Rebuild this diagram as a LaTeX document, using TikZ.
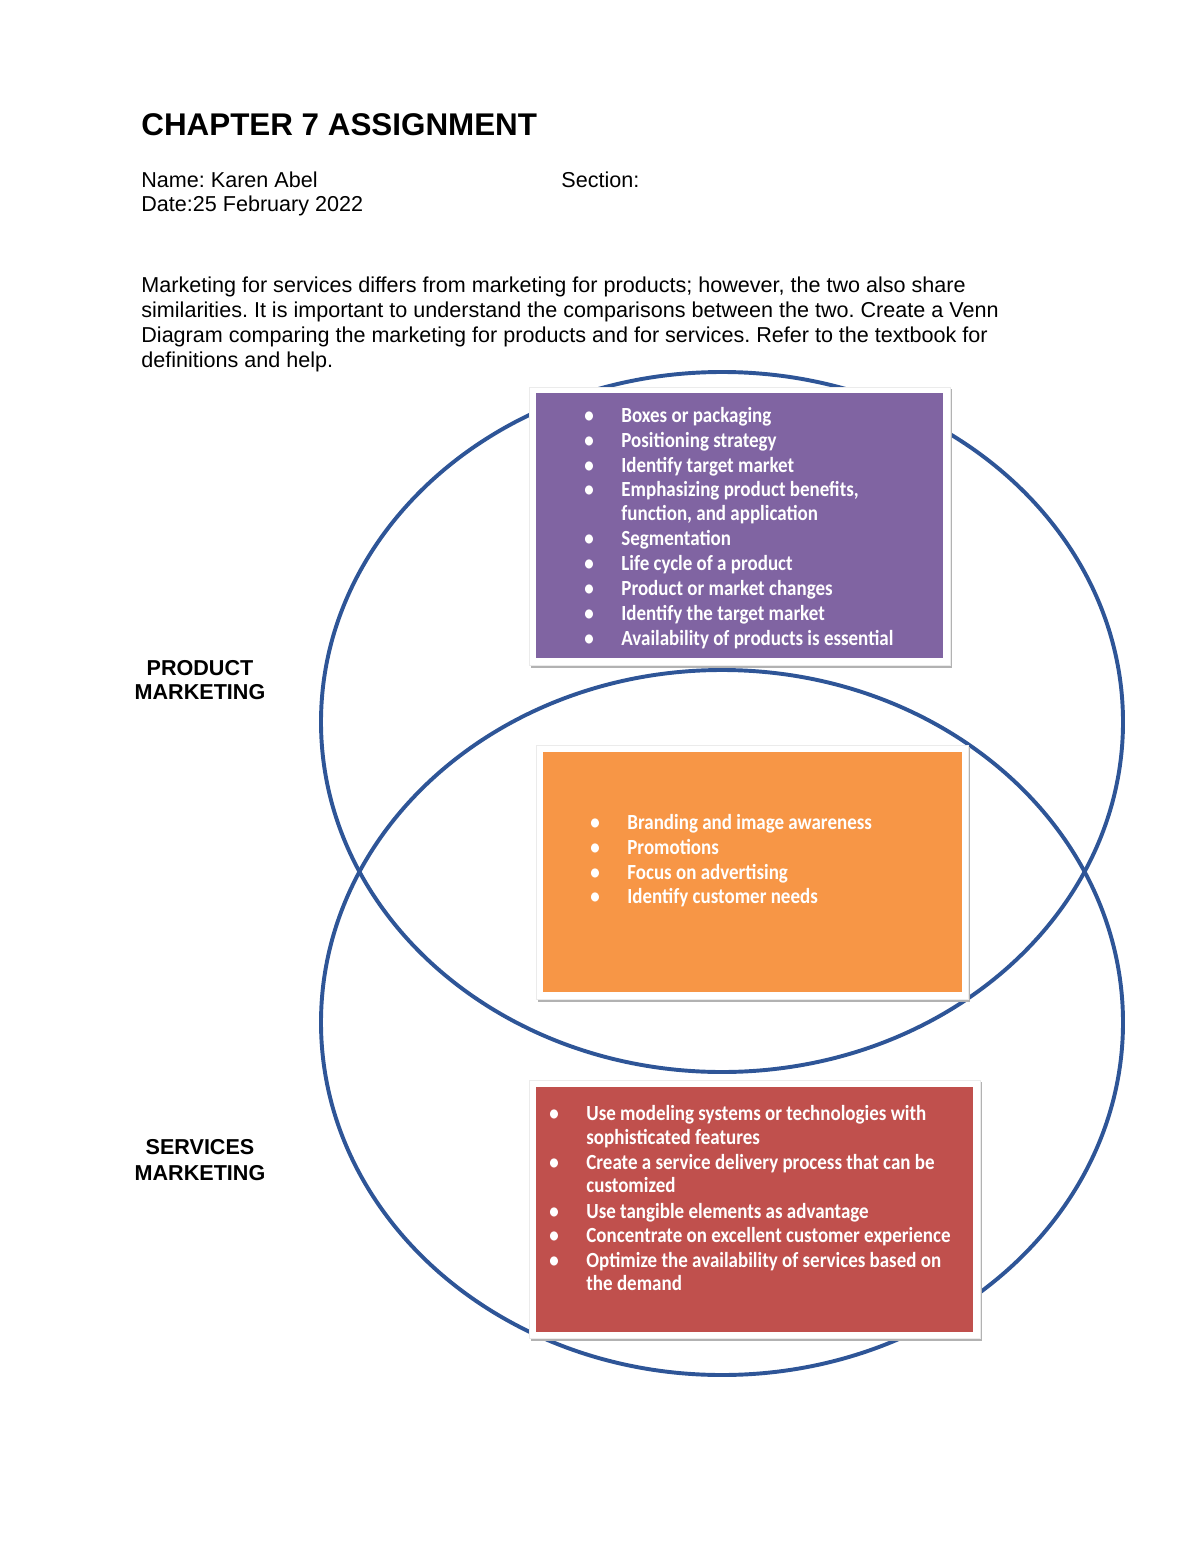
\documentclass[tikz,border=0pt]{standalone}
\usepackage{fontspec}
\setmainfont{Liberation Sans}
\newfontfamily\boxfont[FakeStretch=0.88]{Carlito}
\frenchspacing
\definecolor{vennblue}{HTML}{2E5597}
\definecolor{ppurple}{HTML}{8064A2}
\definecolor{porange}{HTML}{F79646}
\definecolor{pred}{HTML}{C0504D}
\tikzset{
  bodytext/.style={anchor=base west, inner sep=0pt, font=\fontsize{11}{12.6}\selectfont},
  titletext/.style={anchor=base west, inner sep=0pt, font=\fontsize{16}{18}\selectfont\bfseries},
  labeltext/.style={anchor=base, inner sep=0pt, font=\fontsize{11}{12.6}\selectfont\bfseries},
  itemtext/.style={anchor=base west, inner sep=0pt, text=white, font=\boxfont\fontsize{11}{12.6}\selectfont\bfseries},
  bulletmark/.style={anchor=base, inner sep=0pt, text=white, font=\boxfont\fontsize{11}{12.6}\selectfont\bfseries},
  venn/.style={draw=vennblue, line width=2pt},
  boxshadow/.style={fill=black!30, draw=none},
  boxframe/.style={fill=white, draw=black!8, line width=0.3pt},
}
\begin{document}
\begin{tikzpicture}[x=0.51pt, y=-0.51pt]
\useasboundingbox (0,0) rectangle (1200,1553);
% header
\node[titletext] (title) at (141,136) {CHAPTER 7 ASSIGNMENT};
\node[bodytext] (name) at (141,188) {Name: Karen Abel};
\node[bodytext] (section) at (561,188) {Section:};
\node[bodytext] (date) at (141,212) {Date:25 February 2022};
\node[bodytext] (p1) at (141,292) {Marketing for services differs from marketing for products; however, the two also share};
\node[bodytext] (p2) at (141,317) {similarities. It is important to understand the comparisons between the two. Create a Venn};
\node[bodytext] (p3) at (141,342) {Diagram comparing the marketing for products and for services. Refer to the textbook for};
\node[bodytext] (p4) at (141,367) {definitions and help.};
% labels
\node[labeltext] (lab1) at (200,675) {PRODUCT};
\node[labeltext] (lab2) at (200,699) {MARKETING};
\node[labeltext] (lab3) at (200,1154) {SERVICES};
\node[labeltext] (lab4) at (200,1180) {MARKETING};
% ellipses
\draw[venn] (722,722) ellipse [x radius=401, y radius=350];
\draw[venn] (722,1022.5) ellipse [x radius=401, y radius=352.5];
% purple box
\fill[boxshadow] (531,389) rectangle (952,668);
\filldraw[boxframe] (529,387) rectangle (950,665);
\fill[ppurple] (536,393) rectangle (943,658);
% orange box
\fill[boxshadow] (538,747) rectangle (970,1002);
\filldraw[boxframe] (536,745) rectangle (968,999);
\fill[porange] (543,752) rectangle (962,992);
% red box
\fill[boxshadow] (531,1082) rectangle (982,1341);
\filldraw[boxframe] (529,1080) rectangle (980,1338);
\fill[pred] (536,1087) rectangle (973,1332);
% purple items
\foreach \yy/\nm in {422/a1,447/a2,472/a3,496/a4,545/a6,570/a7,595/a8,620/a9,645/a10}
  \node[bulletmark] (b\nm) at (589,\yy) {•};
\node[itemtext] (a1) at (621,422) {Boxes or packaging};
\node[itemtext] (a2) at (621,447) {Positioning strategy};
\node[itemtext] (a3) at (621,472) {Identify target market};
\node[itemtext] (a4) at (621,496) {Emphasizing product benefits,};
\node[itemtext] (a5) at (621,520) {function, and application};
\node[itemtext] (a6) at (621,545) {Segmentation};
\node[itemtext] (a7) at (621,570) {Life cycle of a product};
\node[itemtext] (a8) at (621,595) {Product or market changes};
\node[itemtext] (a9) at (621,620) {Identify the target market};
\node[itemtext] (a10) at (621,645) {Availability of products is essential};
% orange items
\foreach \yy/\nm in {829/c1,854/c2,879/c3,903/c4}
  \node[bulletmark] (b\nm) at (595,\yy) {•};
\node[itemtext] (c1) at (627,829) {Branding and image awareness};
\node[itemtext] (c2) at (627,854) {Promotions};
\node[itemtext] (c3) at (627,879) {Focus on advertising};
\node[itemtext] (c4) at (627,903) {Identify customer needs};
% red items
\foreach \yy/\nm in {1120/r1,1169/r3,1218/r5,1242/r6,1267/r7}
  \node[bulletmark] (b\nm) at (554,\yy) {•};
\node[itemtext] (r1) at (586,1120) {Use modeling systems or technologies with};
\node[itemtext] (r2) at (586,1144) {sophisticated features};
\node[itemtext] (r3) at (586,1169) {Create a service delivery process that can be};
\node[itemtext] (r4) at (586,1192) {customized};
\node[itemtext] (r5) at (586,1218) {Use tangible elements as advantage};
\node[itemtext] (r6) at (586,1242) {Concentrate on excellent customer experience};
\node[itemtext] (r7) at (586,1267) {Optimize the availability of services based on};
\node[itemtext] (r8) at (586,1290) {the demand};
\end{tikzpicture}
\end{document}
